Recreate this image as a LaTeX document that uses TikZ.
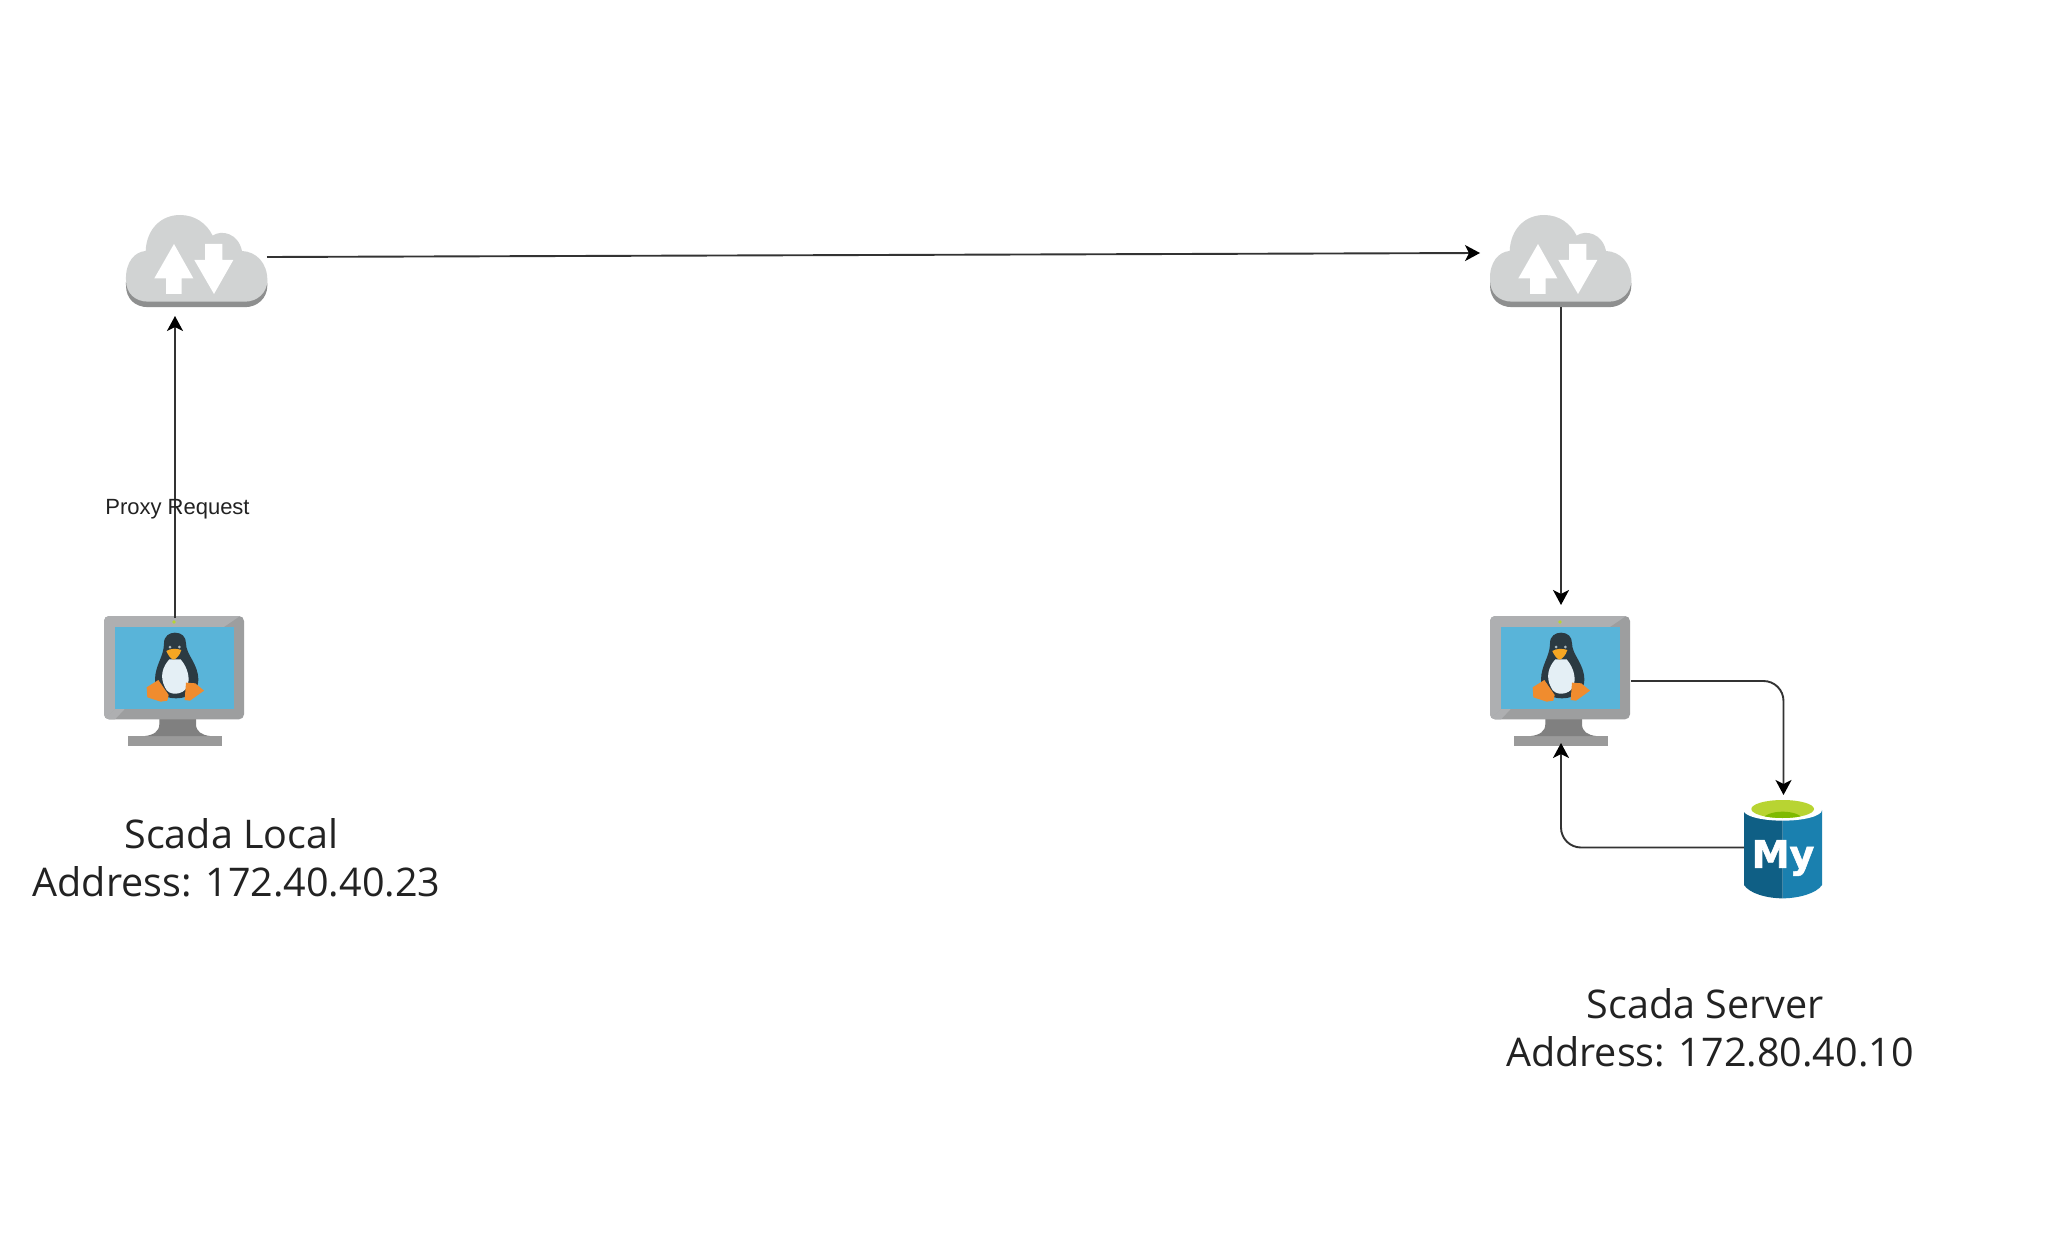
\documentclass[tikz,border=0pt]{standalone}
\usepackage{fontspec}
\setmainfont{Open Sans}
\newfontfamily\arialfont{Liberation Sans}
\newfontfamily\logofont[FakeBold=1.5]{DejaVu Sans}
\usetikzlibrary{arrows.meta}
\definecolor{cloudface}{HTML}{D1D3D3}
\definecolor{cloudrim}{HTML}{8E8F8F}
\definecolor{bezellight}{HTML}{AEAFB1}
\definecolor{bezeldark}{HTML}{9D9E9F}
\definecolor{neckgrey}{HTML}{808080}
\definecolor{basegrey}{HTML}{9A9A9A}
\definecolor{screenblue}{HTML}{59B4D9}
\definecolor{ledgreen}{HTML}{B8D432}
\definecolor{tuxdark}{HTML}{2B3A42}
\definecolor{tuxbelly}{HTML}{E4EFF5}
\definecolor{tuxfoot}{HTML}{F08C2E}
\definecolor{tuxbeak}{HTML}{F5A623}
\definecolor{dbdark}{HTML}{0F5F85}
\definecolor{dblight}{HTML}{1A80AF}
\definecolor{dbgreen}{HTML}{7FBA00}
\definecolor{linegrey}{HTML}{333333}
\definecolor{textgrey}{HTML}{222222}
\tikzset{
  hold/.style={inner sep=0pt,outer sep=0pt,draw=none,fill=none},
  link/.style={draw=linegrey,line width=1.9pt,rounded corners=20pt,
    -{Stealth[length=15pt,width=16pt,inset=4pt,color=black,fill=black]}},
  bigtext/.style={font=\fontsize{39.5}{48}\selectfont,text=textgrey,align=center,inner sep=0pt},
  smalltext/.style={font=\arialfont\fontsize{22}{26}\selectfont,text=textgrey,inner sep=0pt},
  pics/cloudicon/.style={code={
    \def\cloudpath{(108,270) .. controls (106,215) and (135,185) .. (167,183)
      .. controls (170,115) and (215,75) .. (270,75)
      .. controls (315,75) and (350,100) .. (368,137)
      .. controls (395,118) and (445,130) .. (456,183)
      .. controls (500,185) and (532,220) .. (532,270)
      .. controls (532,310) and (500,335) .. (465,335)
      -- (175,335) .. controls (135,335) and (108,310) .. (108,270) -- cycle}
    \fill[cloudrim,yshift=-5.5pt] \cloudpath;
    \fill[cloudface] \cloudpath;
    \fill[white] (252,162) -- (310,265) -- (275,265) -- (275,312) -- (228,312) -- (228,265) -- (193,265) -- cycle;
    \fill[white] (345,162) -- (397,162) -- (397,210) -- (430,210) -- (372,312) -- (313,210) -- (345,210) -- cycle;
  }},
  pics/vmicon/.style={code={
    \fill[basegrey] (115,408) rectangle (397,438);
    \fill[neckgrey] (208,350) -- (318,350) -- (318,372) .. controls (318,395) and (335,405) .. (360,408)
      -- (165,408) .. controls (190,405) and (208,395) .. (208,372) -- cycle;
    \fill[bezeldark,rounded corners=5pt] (42,48) rectangle (462,358);
    \begin{scope}
      \clip[rounded corners=5pt] (42,48) rectangle (462,358);
      \fill[bezellight] (42,48) -- (450,48) -- (400,82) -- (75,82) -- (75,326) -- (42,358) -- cycle;
      \fill[bezellight] (42,358) -- (75,358) -- (105,326) -- (75,326) -- cycle;
    \end{scope}
    \fill[screenblue] (75,82) rectangle (432,326);
    \fill[ledgreen] (252,66) circle (5.5);
    \fill[tuxdark] (222,130) .. controls (222,108) and (238,98) .. (255,98)
      .. controls (275,98) and (288,110) .. (288,130)
      .. controls (288,165) and (325,190) .. (325,240)
      .. controls (325,270) and (300,295) .. (258,295)
      .. controls (215,295) and (195,270) .. (195,240)
      .. controls (195,195) and (222,170) .. (222,130) -- cycle;
    \fill[tuxbelly] (238,178) -- (272,178)
      .. controls (295,205) and (302,240) .. (290,262)
      .. controls (280,285) and (235,290) .. (225,262)
      .. controls (208,230) and (218,200) .. (238,178) -- cycle;
    \fill[tuxfoot] (170,262) -- (205,240) -- (236,285) -- (232,302) -- (212,305) -- (172,292) -- cycle;
    \fill[tuxfoot] (288,248) -- (316,250) -- (342,272) -- (300,302) -- (284,300) -- cycle;
    \fill[tuxbeak] (229,153) .. controls (240,145) and (262,145) .. (274,150)
      .. controls (270,165) and (258,178) .. (250,179)
      .. controls (242,176) and (234,165) .. (229,153) -- cycle;
    \fill[tuxbelly!70!tuxdark] (240,141) circle (4.5) (268,141) circle (4.5);
  }},
}
\begin{document}
\begin{tikzpicture}[x=1pt,y=-1pt]
\useasboundingbox (0,0) rectangle (2054,1236);
\fill[white] (0,0) rectangle (2054,1236);

% anchor nodes
\node[hold,minimum width=141pt,minimum height=92pt] (cloud1) at (196.5,261) {};
\node[hold,minimum width=141pt,minimum height=92pt] (cloud2) at (1560.5,261) {};
\node[hold,minimum width=140pt,minimum height=130pt] (vm1) at (174,681) {};
\node[hold,minimum width=140pt,minimum height=130pt] (vm2) at (1560,681) {};
\node[hold,minimum width=78pt,minimum height=98pt] (db) at (1783,849) {};

% icons
\begin{scope}[shift={(90,190)},x=0.33333pt,y=-0.33333pt]\pic{cloudicon};\end{scope}
\begin{scope}[shift={(1454,190)},x=0.33333pt,y=-0.33333pt]\pic{cloudicon};\end{scope}
\begin{scope}[shift={(90,600)},x=0.33333pt,y=-0.33333pt]\pic{vmicon};\end{scope}
\begin{scope}[shift={(1476,600)},x=0.33333pt,y=-0.33333pt]\pic{vmicon};\end{scope}

% database icon
\begin{scope}[shift={(1470,600)},x=0.33333pt,y=-0.33333pt]
  \fill[dblight] (938,625) -- (1056,630) -- (1056,855) .. controls (1040,880) and (985,895) .. (938,895) -- cycle;
  \fill[dbdark] (938,625) -- (822,630) -- (822,855) .. controls (838,880) and (890,895) .. (938,895) -- cycle;
  \fill[white] (938,630) ellipse [x radius=118,y radius=32];
  \fill[ledgreen] (938,627) ellipse [x radius=94,y radius=27];
  \begin{scope}
    \clip (938,627) ellipse [x radius=94,y radius=27];
    \fill[dbgreen] (938,660) ellipse [x radius=60,y radius=25];
  \end{scope}
\end{scope}
\node[hold,font=\logofont\bfseries\fontsize{38}{38}\selectfont,text=white] (mylogo) at (1783,858) {My};

% connectors
\draw[link] ([shift={(1,2)}]vm1.north) -- node[smalltext,pos=0.36,xshift=2.5pt] (proxy) {Proxy Request} ([shift={(-21.5,9)}]cloud1.south);
\draw[link] ([shift={(0,-4)}]cloud1.east) -- ([shift={(-10,-8)}]cloud2.west);
\draw[link] ([xshift=0.5pt]cloud2.south) -- ([shift={(1,-11)}]vm2.north);
\draw[link] ([shift={(1,0)}]vm2.east) -| ([shift={(0.5,-5)}]db.north);
\draw[link] ([shift={(0,-1.5)}]db.west) -| ([shift={(1,-3)}]vm2.south);

% labels
\node[bigtext] (lbl1) at (236.5,858) {Scada Local\hspace*{10pt}\\Address: 172.40.40.23};
\node[bigtext] (lbl2) at (1710,1028) {Scada Server\hspace*{10pt}\\Address: 172.80.40.10};
\end{tikzpicture}
\end{document}
